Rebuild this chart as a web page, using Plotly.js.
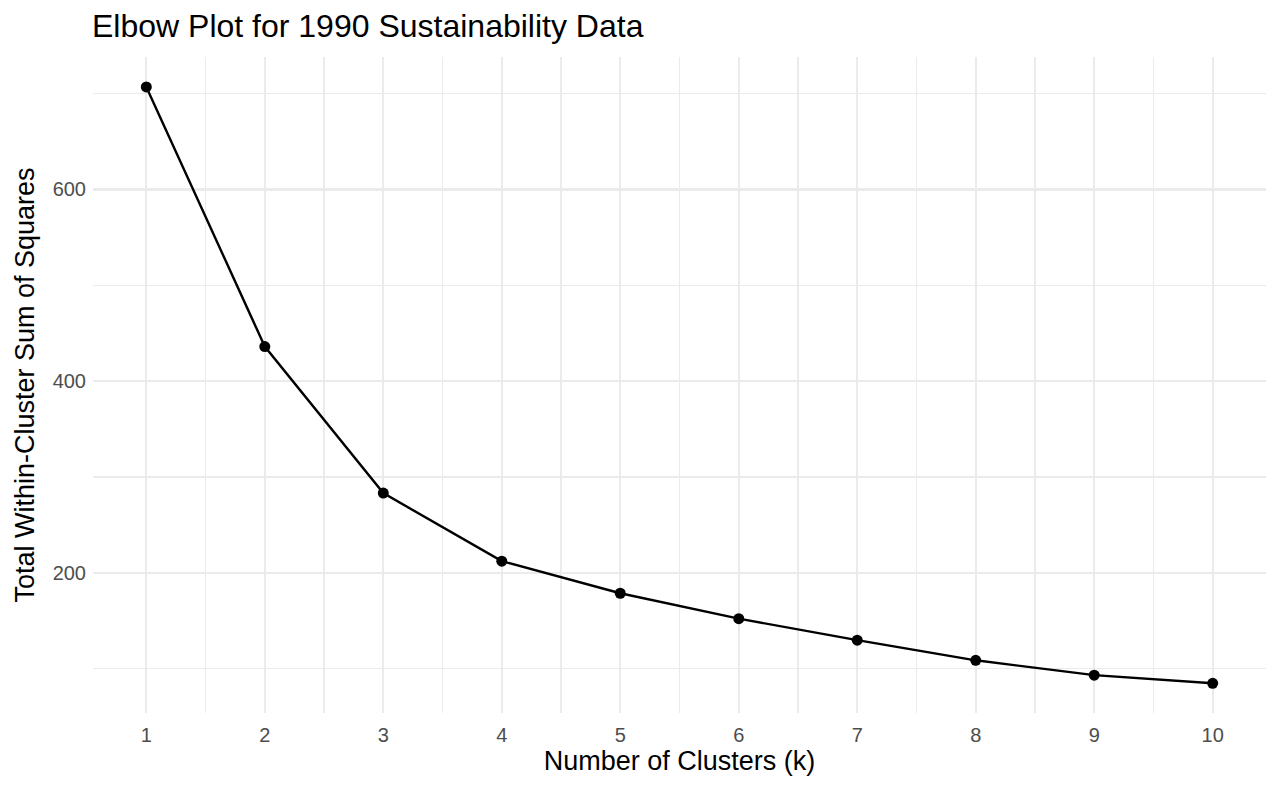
<!DOCTYPE html>
<html>
<head>
<meta charset="utf-8">
<script src="https://cdn.plot.ly/plotly-3.0.1.min.js"></script>
<style>html,body{margin:0;padding:0;background:#fff;}#chart{width:1280px;height:791px;}</style>
</head>
<body>
<div id="chart"></div>
<script>
const clusters = [1, 2, 3, 4, 5, 6, 7, 8, 9, 10];
const wss = [707, 436, 283, 212, 178.5, 152, 129.5, 108.5, 93, 84.5];
const xTicks = [1, 2, 3, 4, 5, 6, 7, 8, 9, 10];
const yTicks = [200, 400, 600];

const trace = {
  x: clusters, y: wss, type: 'scatter', mode: 'lines+markers',
  line: {color: '#000000', width: 2.4},
  marker: {color: '#000000', size: 11},
  hoverinfo: 'x+y'
};
const font = 'Liberation Sans, Arial, sans-serif';
const layout = {
  width: 1280, height: 791,
  margin: {l: 93, r: 14, t: 57, b: 78},
  paper_bgcolor: '#ffffff', plot_bgcolor: '#ffffff',
  showlegend: false,
  title: {text: 'Elbow Plot for 1990 Sustainability Data', x: 92/1280, xanchor: 'left', y: 1 - 26/791, yanchor: 'middle',
          font: {family: font, size: 32, color: '#000000'}},
  xaxis: {
    range: [0.55, 10.45], tickvals: xTicks, ticktext: xTicks.map(String),
    showgrid: true, gridcolor: '#ebebeb', gridwidth: 2.2, zeroline: false, showline: false,
    ticks: '', tickfont: {family: font, size: 20, color: '#4d4d4d'}, ticklabelstandoff: 8,
    minor: {dtick: 1, tick0: 0.5, showgrid: true, gridcolor: '#ebebeb', gridwidth: 1.4},
    title: {text: 'Number of Clusters (k)', font: {family: font, size: 27, color: '#000000'}, standoff: 5}
  },
  yaxis: {
    range: [53.5, 738.2], tickvals: yTicks, ticktext: yTicks.map(String),
    showgrid: true, gridcolor: '#ebebeb', gridwidth: 2.2, zeroline: false, showline: false,
    ticks: '', tickfont: {family: font, size: 20, color: '#4d4d4d'}, ticklabelstandoff: 6,
    minor: {tickvals: [100, 300, 500, 700], showgrid: true, gridcolor: '#ebebeb', gridwidth: 1.4},
    title: {text: 'Total Within-Cluster Sum of Squares', font: {family: font, size: 27, color: '#000000'}, standoff: 10}
  }
};
Plotly.newPlot('chart', [trace], layout, {displayModeBar: false, staticPlot: true});
</script>
</body>
</html>
